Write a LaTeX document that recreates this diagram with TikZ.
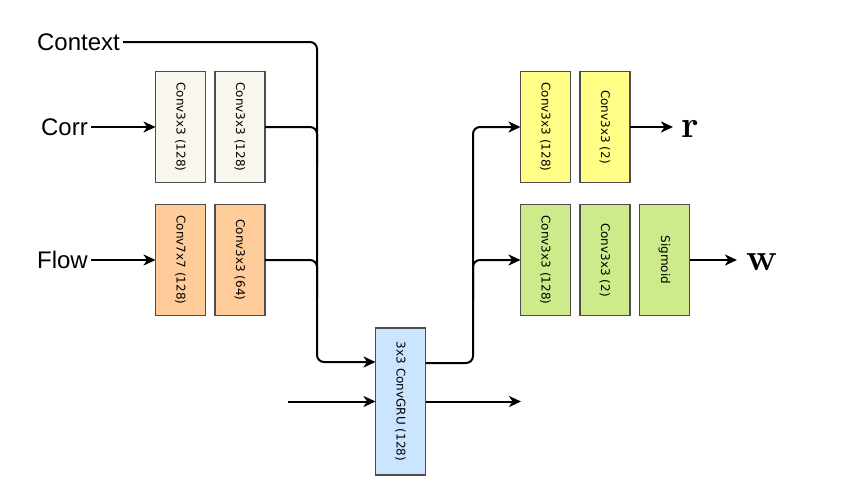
\documentclass[tikz,border=0pt]{standalone}
\usepackage{amsmath}
\usepackage[no-math]{fontspec}
\usepackage{graphicx}
\usepackage{tikz}
\usepackage{xcolor}
\setmainfont{Liberation Sans}
\newfontfamily\boxfont{DejaVu Sans}
\newfontfamily\outfont{Latin Modern Roman}
\usetikzlibrary{arrows.meta, positioning}
\definecolor{Corr_Fill}{HTML}{F9F7ED}
\definecolor{Flow_Fill}{HTML}{FFCC99}
\definecolor{R_Fill}{HTML}{FFFF88}
\definecolor{W_Fill}{HTML}{CDEB8B}
\definecolor{GRU_Fill}{HTML}{CCE5FF}
\definecolor{Box_Edge}{HTML}{4D4D4D}
\newcommand{\vlab}[1]{\rotatebox{-90}{#1}}

\begin{document}
\begin{tikzpicture}[x=1pt, y=-1pt,
  layer/.style={draw=Box_Edge, line width=1.6pt, minimum width=50pt, minimum height=111pt,
    inner sep=0pt, outer sep=0pt, font=\boxfont\fontsize{12}{14}\selectfont},
  inlbl/.style={font=\fontsize{24}{26}\selectfont, inner sep=3pt},
  outlbl/.style={font=\outfont\bfseries\fontsize{38}{40}\selectfont, inner ysep=0pt},
  wire/.style={line width=2pt, rounded corners=7pt},
  arr/.style={wire, -{Stealth[length=12pt, width=11pt, inset=3.5pt]}}]
\useasboundingbox (0,0) rectangle (851,496);
% Inputs
\node[inlbl, anchor=east] (ctx) at (123,42) {Context};
\node[inlbl, anchor=east] (corr) at (91,127) {Corr};
\node[inlbl, anchor=east] (flow) at (91,260) {Flow};
% Corr encoder
\node[layer, fill=Corr_Fill] (c1) at (180.5,127) {\vlab{Conv3x3 (128)}};
\node[layer, fill=Corr_Fill, right=9.5pt of c1] (c2) {\vlab{Conv3x3 (128)}};
% Flow encoder
\node[layer, fill=Flow_Fill] (f1) at (180.5,260) {\vlab{Conv7x7 (128)}};
\node[layer, fill=Flow_Fill, right=9.5pt of f1] (f2) {\vlab{Conv3x3 (64)}};
% GRU
\node[layer, fill=GRU_Fill, minimum height=147pt] (gru) at (400.5,401.5) {\vlab{3x3 ConvGRU (128)}};
% r head
\node[layer, fill=R_Fill] (r1) at (545.5,127) {\vlab{Conv3x3 (128)}};
\node[layer, fill=R_Fill, right=9.5pt of r1] (r2) {\vlab{Conv3x3 (2)}};
% w head
\node[layer, fill=W_Fill] (w1) at (545.5,260) {\vlab{Conv3x3 (128)}};
\node[layer, fill=W_Fill, right=9.5pt of w1] (w2) {\vlab{Conv3x3 (2)}};
\node[layer, fill=W_Fill, right=9.5pt of w2] (w3) {\vlab{Sigmoid}};
% Outputs
\node[outlbl, anchor=west, inner xsep=8pt] (rout) at (673,129) {r};
\node[outlbl, anchor=west, inner xsep=9pt] (wout) at (737,262) {w};
\coordinate (hin) at (288,401.5);
\coordinate (hout) at (521,401.5);
% Connectors
\draw[arr] (corr.east) -- (c1.west);
\draw[arr] (flow.east) -- (f1.west);
\draw[arr] (ctx.east) -| (317,300) |- (gru.west |- 0,362);
\draw[wire] (c2.east) -- (317,127) -- (317,165);
\draw[wire] (f2.east) -- (317,260) -- (317,298);
\draw[arr] (gru.east |- 0,363) -| (473,200) |- (r1.west);
\draw[arr] (473,300) |- (w1.west);
\draw[arr] (hin) -- (gru.west);
\draw[arr] (gru.east) -- (hout);
\draw[arr] (r2.east) -- (r2.east -| rout.west);
\draw[arr] (w3.east) -- (w3.east -| wout.west);
\end{tikzpicture}
\end{document}
